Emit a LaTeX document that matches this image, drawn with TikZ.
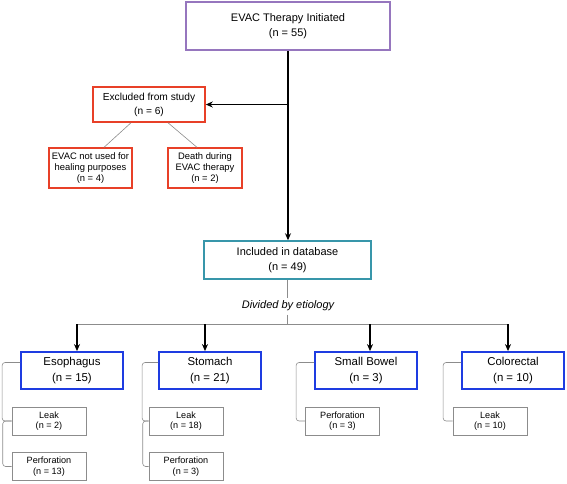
\documentclass[tikz,border=0pt]{standalone}
\usepackage{fontspec}
\setmainfont{Liberation Sans}
\usetikzlibrary{positioning, arrows.meta}

\definecolor{evacpurple}{RGB}{150,118,190}
\definecolor{exclred}{RGB}{232,64,40}
\definecolor{dbteal}{RGB}{56,150,170}
\definecolor{siteblue}{RGB}{30,60,225}
\definecolor{subgray}{RGB}{140,140,140}

\begin{document}
\begin{tikzpicture}[x=1pt, y=-1pt,
    box/.style={draw, fill=white, align=center, inner sep=0pt},
    topbox/.style={box, draw=evacpurple, line width=2pt, minimum width=204pt, minimum height=48pt, font=\fontsize{11}{15.5}\selectfont},
    exbox/.style={box, draw=exclred, line width=1.5pt, font=\fontsize{10.2}{14}\selectfont},
    redbox/.style={box, draw=exclred, line width=1.3pt, minimum height=40pt, font=\fontsize{9.4}{10.6}\selectfont},
    dbbox/.style={box, draw=dbteal, line width=1.5pt, minimum width=167pt, minimum height=38pt, font=\fontsize{11}{15.5}\selectfont},
    sitebox/.style={box, draw=siteblue, line width=1.8pt, minimum width=102pt, minimum height=37pt, font=\fontsize{11.4}{15.5}\selectfont},
    subbox/.style={box, draw=subgray, line width=0.6pt, minimum width=74pt, minimum height=28pt, font=\fontsize{9.1}{10.6}\selectfont},
    flow/.style={-{Stealth[length=7pt, width=6pt]}, line width=1.3pt, black},
    thin/.style={subgray, line width=0.6pt},
    brace/.style={subgray, line width=0.6pt, rounded corners=3pt}]
    \useasboundingbox (0,0) rectangle (567,483);

    % Top of the chart
    \node[topbox] (init) at (288,26) {EVAC Therapy Initiated\\(n = 55)};
    \node[exbox, minimum width=112pt, minimum height=35pt] (excl) at (149,104.5) {Excluded from study\\(n = 6)};
    \node[redbox, minimum width=83pt] (notused) at (90.5,168) {EVAC not used for\\healing purposes\\(n = 4)};
    \node[redbox, minimum width=74pt] (death) at (205,168) {Death during\\EVAC therapy\\(n = 2)};
    \node[dbbox] (incl) at (287.5,260) {Included in database\\(n = 49)};

    % Main flow
    \draw[flow] (init.south) -- (init.south |- incl.north);
    \draw[flow] (init.south |- excl.east) -- (excl.east);
    \draw[thin] ([xshift=-18pt]excl.south) -- ([xshift=13.5pt]notused.north);
    \draw[thin] ([xshift=19pt]excl.south) -- ([xshift=-8pt]death.north);

    % Split by etiology
    \node[font=\fontsize{11}{12}\selectfont\itshape] (split) at (288,306) {Divided by etiology};
    \draw[thin] (incl.south) -- ([yshift=-1pt]split.north -| incl.south);
    \coordinate (b1) at (77,324);
    \coordinate (b4) at (508,324);
    \draw[thin] (split.south -| incl.south) -- (b1 -| incl.south);
    \draw[thin] (b1) -- (b4);

    % Sites
    \node[sitebox] (eso)  at (72,370.5)  {Esophagus\\(n = 15)};
    \node[sitebox] (stom) at (210,370.5) {Stomach\\(n = 21)};
    \node[sitebox] (sb)   at (366,370.5) {Small Bowel\\(n = 3)};
    \node[sitebox] (col)  at (513,370.5) {Colorectal\\(n = 10)};
    \coordinate (b2) at (205,324);
    \coordinate (b3) at (370,324);
    \draw[flow] (b1) -- (b1 |- eso.north);
    \draw[flow] (b2) -- (b2 |- stom.north);
    \draw[flow] (b3) -- (b3 |- sb.north);
    \draw[flow] (b4) -- (b4 |- col.north);

    % Sub-groups
    \node[subbox] (esoleak)  at (49,421)    {Leak\\(n = 2)};
    \node[subbox] (esoperf)  at (49,466.5)  {Perforation\\(n = 13)};
    \node[subbox] (stomleak) at (186,421)   {Leak\\(n = 18)};
    \node[subbox] (stomperf) at (186,466.5) {Perforation\\(n = 3)};
    \node[subbox] (sbperf)   at (342.5,421) {Perforation\\(n = 3)};
    \node[subbox] (colleak)  at (490,421)   {Leak\\(n = 10)};

    \draw[brace] ([yshift=8pt]eso.west) -- ++(-18,0) |- (esoleak.west);
    \draw[brace] (esoleak.west) -- ++(-9,0) |- (esoperf.west);
    \draw[brace] ([yshift=8pt]stom.west) -- ++(-16,0) |- (stomleak.west);
    \draw[brace] (stomleak.west) -- ++(-6,0) |- (stomperf.west);
    \draw[brace] ([yshift=8pt]sb.west) -- ++(-18,0) |- (sbperf.west);
    \draw[brace] ([yshift=8pt]col.west) -- ++(-18,0) |- (colleak.west);
\end{tikzpicture}
\end{document}
